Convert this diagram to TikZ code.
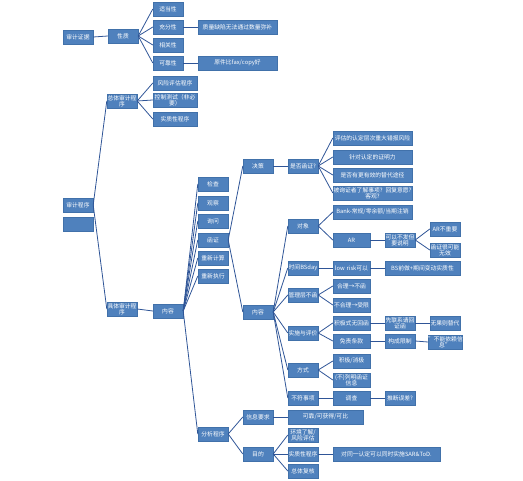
\documentclass[tikz,border=0pt]{standalone}
\usepackage{fontspec}
\setmainfont{Noto Sans CJK SC}
\XeTeXlinebreaklocale "zh"
\XeTeXlinebreakskip=0pt
\usepackage{tikz}
\usepackage{xcolor}
\usetikzlibrary{arrows.meta,positioning}
\definecolor{boxblue}{RGB}{79,129,189}
\definecolor{boxedge}{RGB}{65,113,170}
\definecolor{linkblue}{RGB}{47,85,151}

\tikzset{
  box/.style={rectangle,fill=boxblue,draw=boxedge,line width=0.4pt,text=white,
    align=center,inner xsep=0pt,inner ysep=0.5pt,minimum height=13.5pt,
    text width=30pt,font=\fontsize{5.8}{6.2}\selectfont},
  mbox/.style={box,text width=37pt},
  wbox/.style={box,text width=44pt},
  lbox/.style={box,text width=79pt},
  link/.style={linkblue,line width=0.8pt},
}

\begin{document}
\begin{tikzpicture}[x=1pt,y=-1pt]

%% ── canvas ───────────────────────────────────────────────────────────────────
\useasboundingbox (0,0) rectangle (523,481);

%% ════════════════════════════════════════════════════════════════════════════
%%  审计证据
%% ════════════════════════════════════════════════════════════════════════════
\node[box] (evid) at (78,37) {审计证据};
\node[box] (prop) at (123,36) {性质};
\node[box] (appr) at (168,9)  {适当性};
\node[box] (suff) at (168,27) {充分性};
\node[box] (rele) at (168,45) {相关性};
\node[box] (reli) at (168,63) {可靠性};
\node[lbox] (qual) at (237.5,27) {质量缺陷无法通过数量弥补};
\node[lbox] (orig) at (237.5,63) {原件比fax/copy好};

%% ════════════════════════════════════════════════════════════════════════════
%%  审计程序
%% ════════════════════════════════════════════════════════════════════════════
\node[box] (proc) at (78,205) {审计程序};
\node[box] (blank) at (78,224) {};

%% ── 总体审计程序 ─────────────────────────────────────────────────────────────
\node[box] (overall) at (122,101) {总体审计程\\序};
\node[wbox] (risk) at (175,83)  {风险评估程序};
\node[wbox] (ctrl) at (175,100) {控制测试（非必\\要）};
\node[wbox] (subs) at (175,119) {实质性程序};

%% ── 具体审计程序 ─────────────────────────────────────────────────────────────
\node[box] (spec) at (122,309) {具体审计程\\序};
\node[box] (cont) at (168,311) {内容};
\node[box] (insp) at (213,184) {检查};
\node[box] (obsv) at (213,203) {观察};
\node[box] (inq)  at (213,221) {询问};
\node[box] (conf) at (213,240) {函证};
\node[box] (recl) at (213,258) {重新计算};
\node[box] (reex) at (213,276) {重新执行};
\node[box] (anal) at (213,434) {分析程序};

%% ── 函证：决策 ──────────────────────────────────────────────────────────────
\node[box] (deci) at (258,166) {决策};
\node[box] (whet) at (303,166) {是否函证?};
\node[lbox] (wa) at (372.5,138) {评估的认定层次重大错报风险};
\node[lbox] (wb) at (372.5,157) {针对认定的证明力};
\node[lbox] (wc) at (372.5,175) {是否有更有效的替代途径};
\node[lbox] (wd) at (372.5,193) {被询证者了解事项? 回复意愿?\\客观?};

%% ── 函证：内容 ──────────────────────────────────────────────────────────────
\node[box] (cont2) at (258,312) {内容};

\node[box] (targ) at (303,226) {对象};
\node[lbox] (bank) at (372.5,212) {Bank-常规/零余额/当期注销};
\node[mbox] (ar) at (351.5,240) {AR};
\node[box] (nosend) at (400,240) {可以不发但\\要说明};
\node[box] (arsm) at (445,229) {AR不重要};
\node[box] (arno) at (445,250) {函证很可能\\无效};

\node[box] (time) at (303,268) {时间BSday};
\node[mbox] (lowr) at (351.5,268) {low risk可以};
\node[box,text width=75pt] (bsbf) at (422.5,268) {BS前做+期间变动实质性};

\node[box] (mgmt) at (303,295) {管理层不函};
\node[mbox] (reas) at (351.5,286) {合理→不函};
\node[mbox] (unre) at (351.5,305) {不合理→受限};

\node[box] (exec) at (303,333) {实施与评价};
\node[mbox] (posn) at (351.5,323) {积极式无回函};
\node[box] (cntc) at (400,323) {先联系请回\\证函};
\node[box] (alte) at (445,323) {无果则替代};
\node[mbox] (disc) at (351.5,341) {免责条款};
\node[box] (limt) at (400,341) {构成限制};
\node[box,text width=34pt] (nore) at (445,342) {\mbox{"不能依赖信}\\息"};

\node[box] (mode) at (303,370) {方式};
\node[mbox] (posi) at (351.5,361) {积极/消极};
\node[mbox] (list) at (351.5,380) {(不)列明函证\\信息};

\node[box] (diff) at (303,398) {不符事项};
\node[mbox] (invs) at (351.5,398) {调查};
\node[box] (misst) at (400,398) {推断误差?};

%% ── 分析程序 ────────────────────────────────────────────────────────────────
\node[box] (info) at (258,417) {信息要求};
\node[box,text width=75pt] (relb) at (325.5,417) {可靠/可获得/可比};
\node[box] (purp) at (258,454) {目的};
\node[box] (envi) at (303,435) {环境了解/\\风险评估};
\node[box] (subp) at (303,454) {实质性程序};
\node[box] (revw) at (303,471) {总体复核};
\node[box,text width=107pt] (same) at (386.5,454) {对同一认定可以同时实施SAR\&ToD.};

%% ════════════════════════════════════════════════════════════════════════════
%%  CONNECTORS
%% ════════════════════════════════════════════════════════════════════════════
\foreach \p/\c in {evid/prop,prop/appr,prop/suff,prop/rele,prop/reli,
    suff/qual,reli/orig,
    proc/overall,proc/spec,overall/risk,overall/ctrl,overall/subs,
    spec/cont,cont/insp,cont/obsv,cont/inq,cont/conf,cont/recl,cont/reex,cont/anal,
    conf/deci,conf/cont2,deci/whet,whet/wa,whet/wb,whet/wc,whet/wd,
    cont2/targ,cont2/time,cont2/mgmt,cont2/exec,cont2/mode,cont2/diff,
    targ/bank,targ/ar,ar/nosend,nosend/arsm,nosend/arno,
    time/lowr,lowr/bsbf,mgmt/reas,mgmt/unre,
    exec/posn,exec/disc,posn/cntc,cntc/alte,disc/limt,limt/nore,
    mode/posi,mode/list,diff/invs,invs/misst,
    anal/info,anal/purp,info/relb,purp/envi,purp/subp,purp/revw,subp/same}{%
  \draw[link] (\p.east) -- (\c.west);
}

\end{tikzpicture}
\end{document}
